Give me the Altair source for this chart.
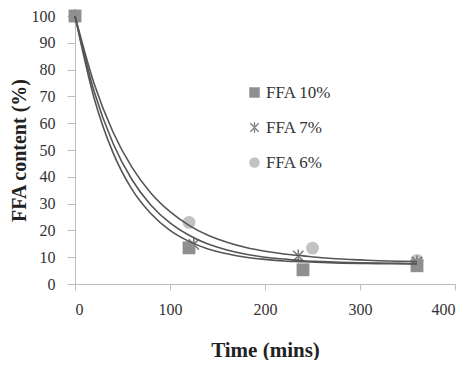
import altair as alt
import pandas as pd

# ---- data ----
SERIES = ["FFA 10%", "FFA 7%", "FFA 6%"]
T_10 = [0, 120, 240, 360]
V_10 = [100, 13.5, 5.3, 6.8]
T_7 = [0, 125, 235, 360]
V_7 = [100, 14.8, 10.5, 8.2]
T_6 = [0, 120, 250, 360]
V_6 = [100, 23, 13.4, 8.8]

# fitted trend curves
CURVE_T = [0, 20, 40, 60, 80, 100, 120, 140, 160, 180, 200, 220, 240, 260, 280, 300, 320, 340, 360]
CURVE_A = [100, 69.5, 49.0, 35.3, 26.2, 20.0, 15.9, 13.1, 11.3, 10.0, 9.2, 8.6, 8.3, 8.0, 7.8, 7.7, 7.6, 7.6, 7.5]
CURVE_B = [100, 72.0, 52.5, 38.9, 29.4, 22.8, 18.2, 14.9, 12.7, 11.1, 10.0, 9.3, 8.7, 8.4, 8.1, 7.9, 7.8, 7.7, 7.6]
CURVE_C = [100, 74.9, 56.7, 43.5, 33.9, 27.0, 21.9, 18.2, 15.6, 13.6, 12.2, 11.2, 10.5, 9.8, 9.3, 9.0, 8.7, 8.5, 8.4]

X_TICKS = [0, 100, 200, 300, 400]
Y_TICKS = [0, 10, 20, 30, 40, 50, 60, 70, 80, 90, 100]

rows = []
for name, ts, vs in [("FFA 6%", T_6, V_6), ("FFA 7%", T_7, V_7), ("FFA 10%", T_10, V_10)]:
    for t, v in zip(ts, vs):
        rows.append({"series": name, "t": t, "v": v})
pts = pd.DataFrame(rows)

crows = []
for name, vs in [("A", CURVE_A), ("B", CURVE_B), ("C", CURVE_C)]:
    for t, v in zip(CURVE_T, vs):
        crows.append({"curve": name, "t": t, "v": v})
curves = pd.DataFrame(crows)

FONT = "Liberation Serif"
ASTERISK = ("M-0.12,-1L0.12,-1L0.12,1L-0.12,1Z"
            "M-0.715,-0.885L0.885,0.715L0.715,0.885L-0.885,-0.715Z"
            "M-0.715,0.885L0.885,-0.715L0.715,-0.885L-0.885,0.715Z")

xscale = alt.Scale(domain=[0, 400], nice=False)
yscale = alt.Scale(domain=[0, 100], nice=False)

xaxis = alt.Axis(values=X_TICKS, title="Time (mins)", grid=False, tickSize=6,
                 labelPadding=11, titlePadding=22, titleFontSize=21, labelOverlap=False)
yaxis = alt.Axis(values=Y_TICKS, title="FFA content (%)", grid=False, tickSize=8,
                 labelPadding=12, titlePadding=2, labelOverlap=False, tickCount=11)

points = alt.Chart(pts).mark_point(filled=True, size=165, opacity=1, strokeWidth=0).encode(
    x=alt.X("t:Q", scale=xscale, axis=xaxis),
    y=alt.Y("v:Q", scale=yscale, axis=yaxis),
    color=alt.Color("series:N", scale=alt.Scale(domain=SERIES, range=["#8f8f8f", "#7a7a7a", "#c2c2c2"]),
                    legend=alt.Legend(orient="none", legendX=171, legendY=68, title=None,
                                      labelFont=FONT, labelFontSize=17, labelColor="#333333",
                                      symbolSize=110, rowPadding=17, labelOffset=3, padding=0,
                                      symbolStrokeWidth=0)),
    shape=alt.Shape("series:N", scale=alt.Scale(domain=SERIES, range=["square", ASTERISK, "circle"]),
                    legend=None),
)

lines = alt.Chart(curves).mark_line(interpolate="monotone", color="#555555", strokeWidth=1.6).encode(
    x=alt.X("t:Q", scale=xscale, axis=xaxis),
    y=alt.Y("v:Q", scale=yscale, axis=yaxis),
    detail="curve:N",
)

chart = alt.layer(points, lines).properties(
    width=380, height=268,
    autosize=alt.AutoSizeParams(type="none"),
    padding={"left": 67, "top": 8, "right": 11, "bottom": 76},
).configure_view(stroke=None).configure_axis(
    labelFont=FONT, labelFontSize=16, labelColor="#333333",
    titleFont=FONT, titleFontSize=20, titleFontWeight="bold", titleColor="#222222",
    domainColor="#bdbdbd", tickColor="#bdbdbd",
)

chart.save("out.html", embed_options={"renderer": "svg", "actions": False})
